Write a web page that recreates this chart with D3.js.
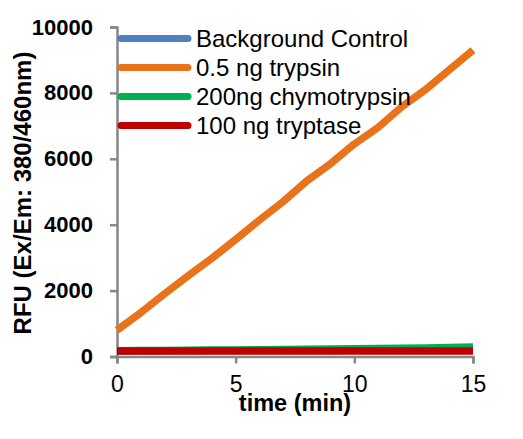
<!DOCTYPE html>
<html>
<head>
<meta charset="utf-8">
<script src="https://cdn.jsdelivr.net/npm/d3@7"></script>
<style>
  body { margin: 0; background: #fff; }
  svg { display: block; font-family: "Liberation Sans", Arial, sans-serif; }
</style>
</head>
<body>
<div id="chart"></div>
<script>
// RFU over time for protease substrates

const times = [0, 1, 2, 3, 4, 5, 6, 7, 8, 9, 10, 11, 12, 13, 14, 15];
const backgroundControl = [170, 170, 175, 175, 180, 180, 180, 185, 185, 185, 190, 190, 190, 195, 195, 200];
const trypsin = [800, 1330, 1900, 2450, 2980, 3550, 4140, 4700, 5330, 5850, 6450, 6950, 7580, 8100, 8700, 9300];
const chymotrypsin = [175, 180, 185, 190, 195, 200, 205, 210, 220, 225, 235, 240, 250, 260, 270, 285];
const tryptase = [165, 165, 165, 165, 165, 168, 168, 168, 168, 170, 170, 170, 170, 170, 170, 170];

const seriesNames = ['Background Control', '0.5 ng trypsin', '200ng chymotrypsin', '100 ng tryptase'];
const seriesColors = ['#4f81bd', '#e8731a', '#00b050', '#c00000'];
const seriesValues = [backgroundControl, trypsin, chymotrypsin, tryptase];

const xTicks = [0, 5, 10, 15];
const yTicks = [0, 2000, 4000, 6000, 8000, 10000];

const width = 523;
const height = 439;
const margin = { top: 27, right: 50, bottom: 83, left: 117 };

const svg = d3.select('#chart')
  .append('svg')
  .attr('width', width)
  .attr('height', height);

const x = d3.scaleLinear()
  .domain([0, 15])
  .range([margin.left, 473]);

const y = d3.scaleLinear()
  .domain([0, 10000])
  .range([height - margin.bottom + 0.5, margin.top]);

const axisColor = '#878787';

// y axis
const yAxis = svg.append('g')
  .attr('transform', `translate(${margin.left},0)`)
  .call(d3.axisLeft(y).tickValues(yTicks).tickSize(7).tickPadding(17).tickFormat(d3.format('d')));
yAxis.select('.domain').attr('stroke', axisColor).attr('stroke-width', 2.5);
yAxis.selectAll('.tick line').attr('stroke', axisColor).attr('stroke-width', 2.5);
yAxis.selectAll('.tick text')
  .attr('fill', '#000')
  .attr('font-size', 22)
  .attr('font-weight', 'bold')
  .attr('font-family', '"Liberation Sans", Arial, sans-serif');

// x axis
const xAxis = svg.append('g')
  .attr('transform', `translate(0,${y(0)})`)
  .call(d3.axisBottom(x).tickValues(xTicks).tickSize(7).tickPadding(12));
xAxis.select('.domain').attr('stroke', axisColor).attr('stroke-width', 2.5);
xAxis.selectAll('.tick line').attr('stroke', axisColor).attr('stroke-width', 2.5);
xAxis.selectAll('.tick text')
  .attr('fill', '#000')
  .attr('font-size', 23)
  .attr('font-family', '"Liberation Sans", Arial, sans-serif');

// axis titles
svg.append('text')
  .attr('x', (x(0) + x(15)) / 2)
  .attr('y', 411)
  .attr('text-anchor', 'middle')
  .attr('font-size', 23.5)
  .attr('font-weight', 'bold')
  .text('time (min)');

svg.append('text')
  .attr('transform', 'translate(31,193) rotate(-90)')
  .attr('text-anchor', 'middle')
  .attr('font-size', 24)
  .attr('font-weight', 'bold')
  .text('RFU (Ex/Em: 380/460nm)');

// lines
const line = d3.line()
  .x((d, i) => x(times[i]))
  .y(d => y(d));

seriesValues.forEach((vals, i) => {
  svg.append('path')
    .datum(vals)
    .attr('d', line)
    .attr('fill', 'none')
    .attr('stroke', seriesColors[i])
    .attr('stroke-width', 7.5)
    .attr('stroke-linejoin', 'round');
});

// legend
const legend = svg.append('g');
seriesNames.forEach((name, i) => {
  const ly = 38.5 + i * 29;
  legend.append('line')
    .attr('x1', 121).attr('x2', 188)
    .attr('y1', ly).attr('y2', ly)
    .attr('stroke', seriesColors[i])
    .attr('stroke-width', 7)
    .attr('stroke-linecap', 'round');
  legend.append('text')
    .attr('x', 196)
    .attr('y', ly + 8.5)
    .attr('font-size', 24)
    .attr('fill', '#000')
    .text(name);
});
</script>
</body>
</html>
